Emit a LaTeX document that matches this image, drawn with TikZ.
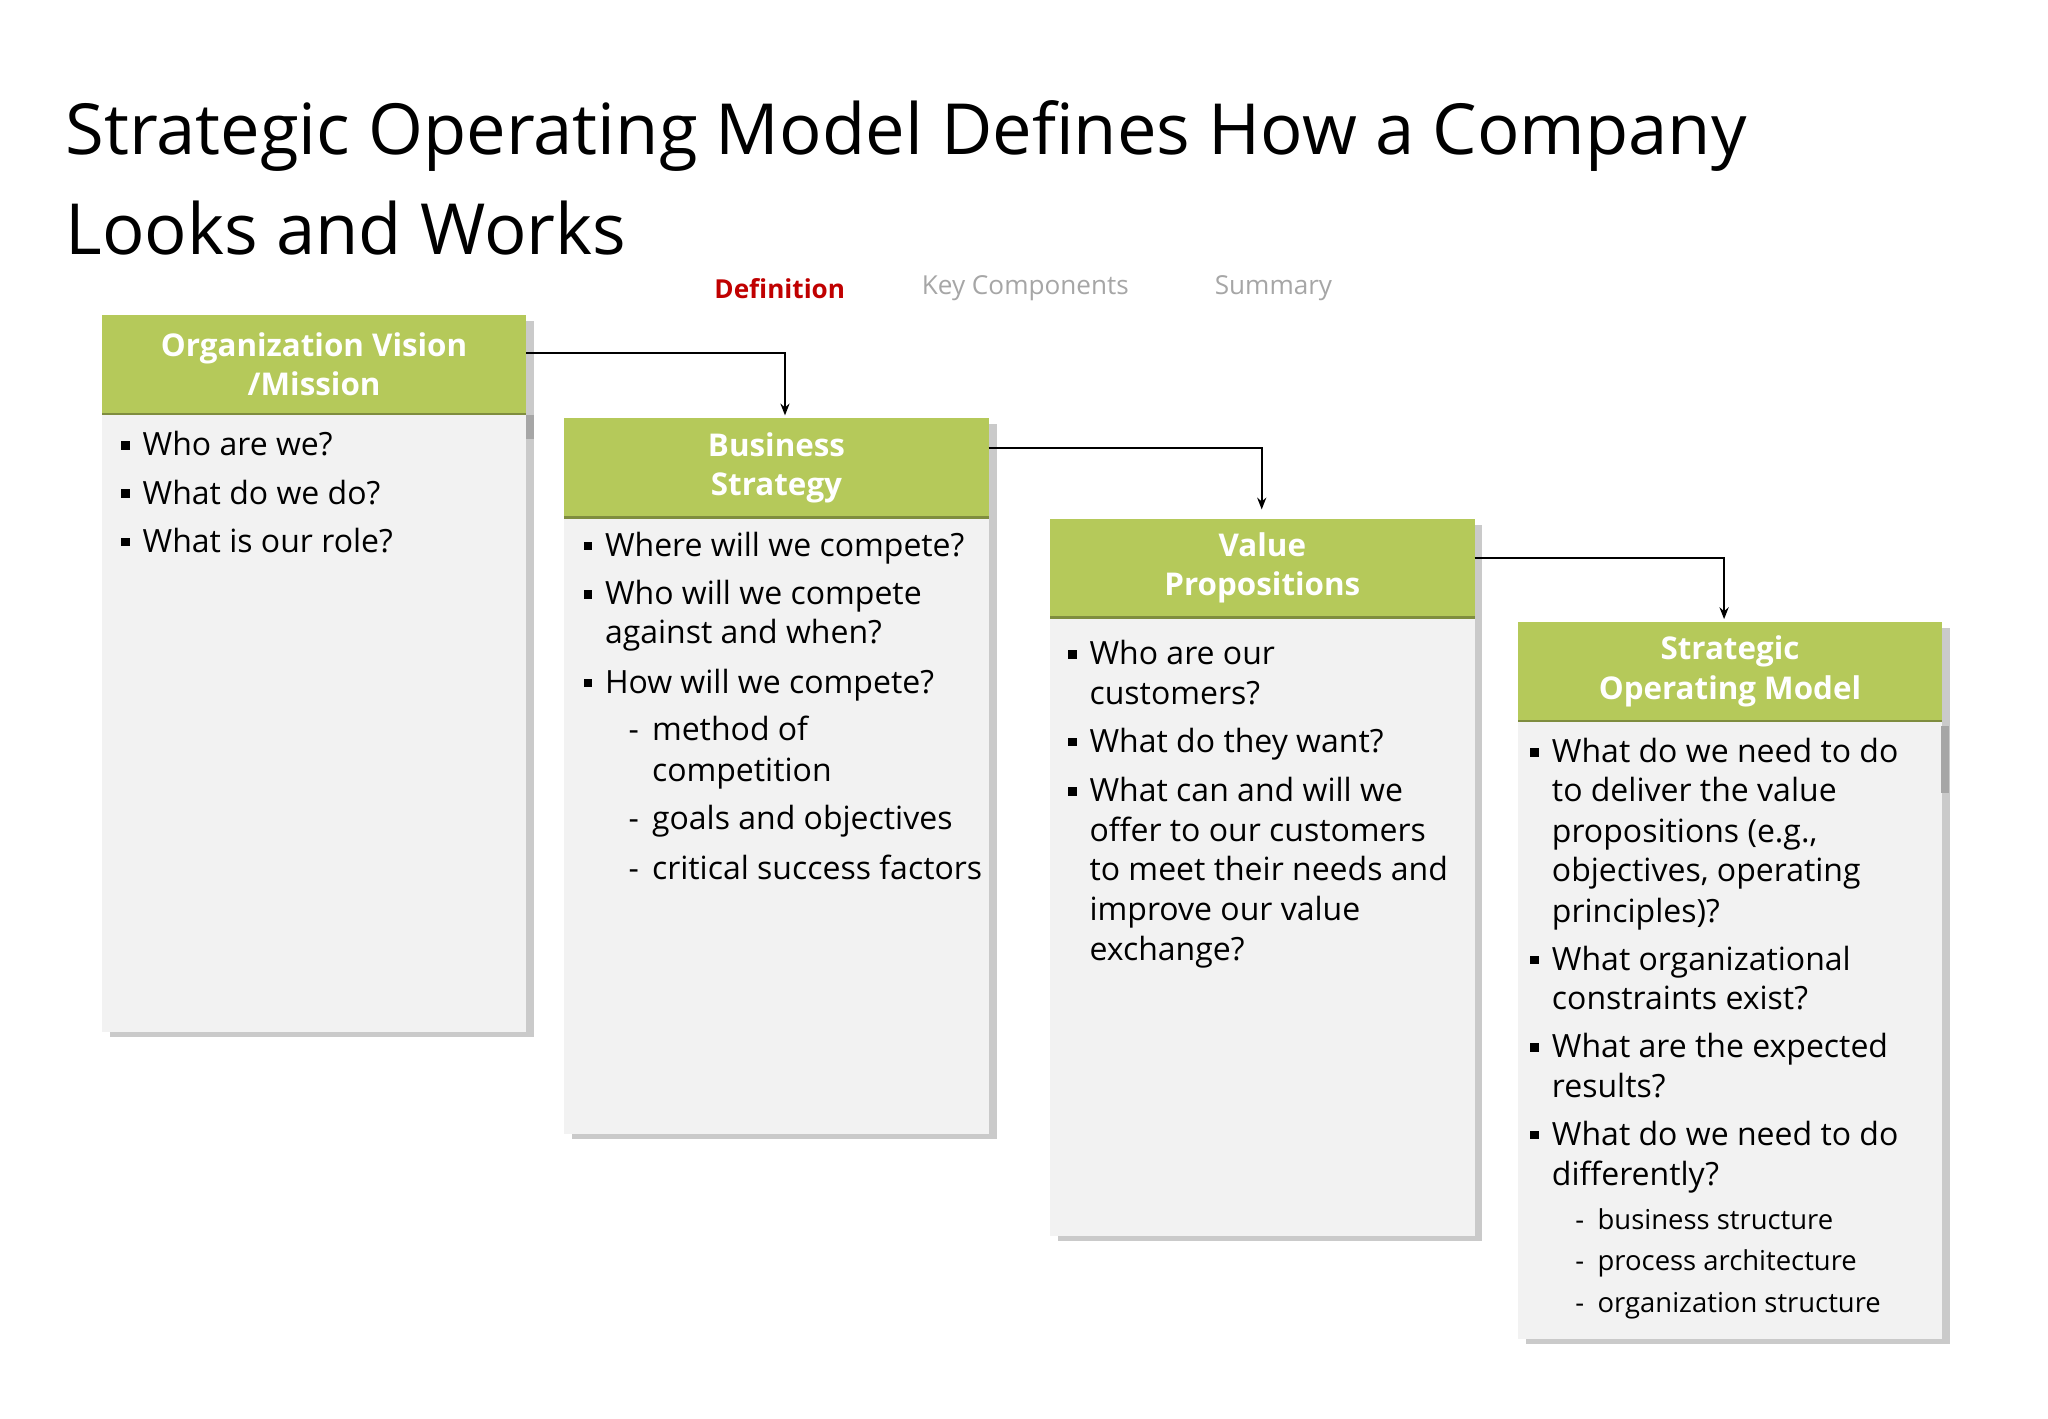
\documentclass[tikz,border=0pt]{standalone}
\usepackage{fontspec}
\setmainfont{Open Sans}
\usetikzlibrary{arrows.meta}
\definecolor{hdr}{HTML}{B5C95A}
\definecolor{bodyc}{HTML}{F2F2F2}
\definecolor{shad}{HTML}{A6A6A6}
\definecolor{tabred}{HTML}{C00000}
\definecolor{tabgray}{HTML}{A6A6A6}
\tikzset{
  bodybox/.style={fill=bodyc, draw=none},
  hdrbox/.style={fill=hdr, draw=none},
  shadow/.style={fill=shad!60, draw=none},
  hdrtxt/.style={text=white, font=\fontsize{24}{30}\selectfont\bfseries, align=center},
  txt/.style={anchor=base west, inner sep=0pt, font=\fontsize{24.5}{30}\selectfont, text=black},
  stxt/.style={anchor=base west, inner sep=0pt, font=\fontsize{21}{26}\selectfont, text=black},
  bul/.style={fill=black, minimum size=6.5pt, inner sep=0pt, draw=none},
  conn/.style={draw=black, line width=1.3pt, -{Stealth[length=9pt,width=7pt]}},
}
\newcommand{\bl}[3]{\node[bul] at (#1+4,#2-8) {}; \node[txt] at (#1+17,#2) {#3};}
\newcommand{\tl}[3]{\node[txt] at (#1+17,#2) {#3};}
\begin{document}
\begin{tikzpicture}[x=1pt,y=-1pt]
\useasboundingbox (0,0) rectangle (1568,1086);
\fill[white] (0,0) rectangle (1568,1086);
% title
\node[anchor=base west, inner sep=0pt, font=\fontsize{54}{70}\selectfont] (t1) at (50,118) {Strategic Operating Model Defines How a Company};
\node[anchor=base west, inner sep=0pt, font=\fontsize{54}{70}\selectfont] (t2) at (50,195) {Looks and Works};
\node[font=\fontsize{20}{25}\selectfont\bfseries, text=tabred] (tab1) at (597,221) {Definition};
\node[font=\fontsize{20}{25}\selectfont, text=tabgray] (tab2) at (785,221) {Key Components};
\node[font=\fontsize{20}{25}\selectfont, text=tabgray] (tab3) at (975,221) {Summary};
% boxes
\foreach \xa/\ya/\yh/\yb/\n in {78/241/318/790/1, 432/320/397/868/2, 804/397/474/946/3, 1162/476/553/1025/4}{
  \fill[shadow] (\xa+6,\yb) rectangle (\xa+331,\yb+4);
  \fill[shadow] (\xa+325,\ya+5) rectangle (\xa+331,\yb+4);
  \fill[bodyc] (\xa,\yh) rectangle (\xa+325,\yb);
  \fill[hdr] (\xa,\ya) rectangle (\xa+325,\yh);
  \fill[hdr!70!black] (\xa,\yh-2) rectangle (\xa+325,\yh);
}
\fill[shad] (403,318) rectangle (409,336);
\fill[shad] (1486,556) rectangle (1492,607);
\node[hdrtxt] (h1) at (240.5,279) {Organization Vision\\/Mission};
\node[hdrtxt] (h2) at (594.5,358) {Business\\Strategy};
\node[hdrtxt] (h3) at (966.5,435) {Value\\Propositions};
\node[hdrtxt] (h4) at (1324.5,514) {Strategic\\Operating Model};
% connectors
\draw[conn] (403,270) -| (601,318);
\draw[conn] (757,343) -| (966,390);
\draw[conn] (1129,427) -| (1320,474);
% box 1
\bl{92}{349}{Who are we?}
\bl{92}{386}{What do we do?}
\bl{92}{423}{What is our role?}
% box 2
\bl{446}{426}{Where will we compete?}
\bl{446}{463}{Who will we compete}
\tl{446}{493}{against and when?}
\bl{446}{531}{How will we compete?}
\node[txt] at (481,567) {-}; \node[txt] at (499,567) {method of};
\node[txt] at (499,598) {competition};
\node[txt] at (481,635) {-}; \node[txt] at (499,635) {goals and objectives};
\node[txt] at (481,673) {-}; \node[txt] at (499,673) {critical success factors};
% box 3
\bl{817}{509}{Who are our}
\tl{817}{539}{customers?}
\bl{817}{576}{What do they want?}
\bl{817}{614}{What can and will we}
\tl{817}{644}{offer to our customers}
\tl{817}{674}{to meet their needs and}
\tl{817}{705}{improve our value}
\tl{817}{735}{exchange?}
% box 4
\bl{1171}{584}{What do we need to do}
\tl{1171}{614}{to deliver the value}
\tl{1171}{645}{propositions (e.g.,}
\tl{1171}{675}{objectives, operating}
\tl{1171}{706}{principles)?}
\bl{1171}{743}{What organizational}
\tl{1171}{773}{constraints exist?}
\bl{1171}{810}{What are the expected}
\tl{1171}{840}{results?}
\bl{1171}{877}{What do we need to do}
\tl{1171}{908}{differently?}
\node[stxt] at (1206,941) {-}; \node[stxt] at (1223,941) {business structure};
\node[stxt] at (1206,973) {-}; \node[stxt] at (1223,973) {process architecture};
\node[stxt] at (1206,1005) {-}; \node[stxt] at (1223,1005) {organization structure};
\end{tikzpicture}
\end{document}
